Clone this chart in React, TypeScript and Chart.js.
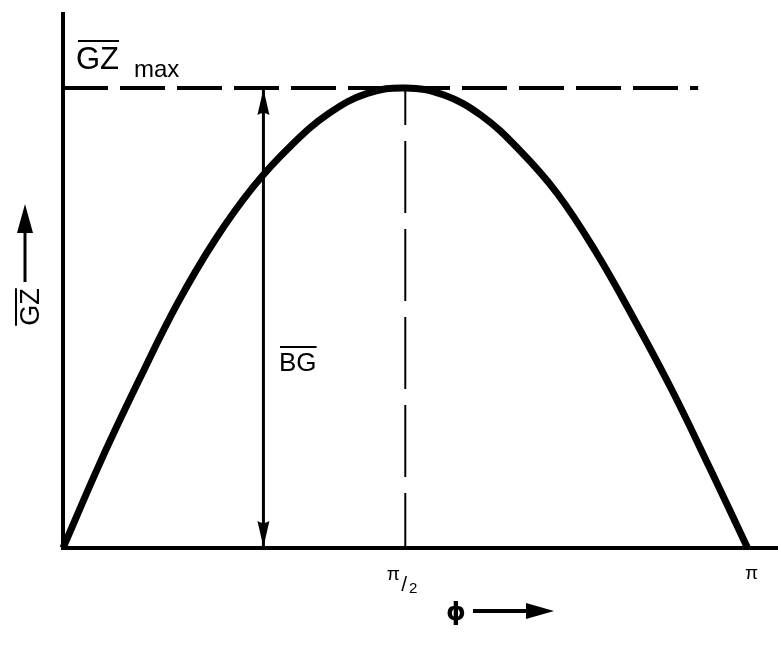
import { useEffect, useRef } from "react";
import Chart from "chart.js/auto";

// Heel angle phi in degrees (0 .. 180 = pi) and the righting lever GZ
const PHI_DEG = [0, 10, 20, 30, 40, 50, 60, 70, 80, 90, 100, 110, 120, 130, 140, 150, 160, 170, 180];
const GZ_VALUES = [0, 0.19, 0.365, 0.53, 0.67, 0.785, 0.875, 0.945, 0.988, 1.0, 0.985, 0.94, 0.865, 0.77, 0.645, 0.5, 0.345, 0.175, 0];

const GZ_MAX = 1.0;
const GZ_MAX_LINE_END = 167; // where the dashed GZmax line stops (deg)
const PEAK_PHI = 90;
const BG_PHI = 52.7;

const TICK_VALUES = [90, 180];
const TICK_LABELS = ["π/2", "π"];

const X_MAX = 188;
const Y_MAX = 1.165;

const FONT = '"Liberation Sans", Arial, sans-serif';

// everything that isn't a plain line: axes, arrow heads and the lettering
const decorations = {
  id: "decorations",
  afterDatasetsDraw(chart: Chart) {
    const { ctx } = chart;
    const x = chart.scales.x;
    const y = chart.scales.y;
    const x0 = x.getPixelForValue(0);
    const y0 = y.getPixelForValue(0);
    const xEnd = x.getPixelForValue(X_MAX);
    const yTop = y.getPixelForValue(Y_MAX);

    ctx.save();
    ctx.strokeStyle = "#000";
    ctx.fillStyle = "#000";

    // axes
    ctx.lineWidth = 4;
    ctx.lineCap = "butt";
    ctx.beginPath();
    ctx.moveTo(x0, yTop);
    ctx.lineTo(x0, y0 + 2);
    ctx.moveTo(x0 - 2, y0);
    ctx.lineTo(xEnd, y0);
    ctx.stroke();

    // BG double arrow heads
    const bx = x.getPixelForValue(BG_PHI);
    const by1 = y.getPixelForValue(GZ_MAX);
    const head = (tipX: number, tipY: number, dir: number, w: number, len: number) => {
      ctx.beginPath();
      ctx.moveTo(tipX, tipY);
      ctx.lineTo(tipX - w / 2, tipY + dir * len);
      ctx.quadraticCurveTo(tipX, tipY + dir * (len - 4), tipX + w / 2, tipY + dir * len);
      ctx.closePath();
      ctx.fill();
    };
    head(bx, by1 + 1, 1, 12, 26);
    head(bx, y0 - 1, -1, 12, 26);

    // tick labels
    const px = x.getPixelForValue(TICK_VALUES[0]);
    const [num, den] = TICK_LABELS[0].split("/");
    ctx.textAlign = "center";
    ctx.textBaseline = "alphabetic";
    ctx.font = `19px ${FONT}`;
    ctx.fillText(num, px - 12, 580);
    ctx.font = `21px ${FONT}`;
    ctx.fillText("/", px - 1, 591);
    ctx.font = `15px ${FONT}`;
    ctx.fillText(den, px + 8, 593);
    ctx.font = `19px ${FONT}`;
    ctx.fillText(TICK_LABELS[1], x.getPixelForValue(TICK_VALUES[1]) + 4, 579);

    // phi -> under the x axis
    ctx.font = `bold 25px "DejaVu Sans", ${FONT}`;
    ctx.fillText("ϕ", 456, 620);
    ctx.lineWidth = 4;
    ctx.beginPath();
    ctx.moveTo(473, 611);
    ctx.lineTo(530, 611);
    ctx.stroke();
    ctx.beginPath();
    ctx.moveTo(554, 611);
    ctx.lineTo(526, 603);
    ctx.lineTo(526, 619);
    ctx.closePath();
    ctx.fill();

    // GZ ^ along the y axis
    ctx.save();
    ctx.translate(39, 307);
    ctx.rotate(-Math.PI / 2);
    ctx.font = `27px ${FONT}`;
    ctx.textAlign = "center";
    ctx.fillText("GZ", 0, 0);
    const gzW = ctx.measureText("GZ").width;
    ctx.fillRect(-gzW / 2, -24, gzW, 2);
    ctx.restore();
    ctx.lineWidth = 3;
    ctx.beginPath();
    ctx.moveTo(25, 282);
    ctx.lineTo(25, 228);
    ctx.stroke();
    ctx.beginPath();
    ctx.moveTo(25, 204);
    ctx.lineTo(17, 233);
    ctx.lineTo(33, 233);
    ctx.closePath();
    ctx.fill();

    // GZ max label
    ctx.textAlign = "left";
    ctx.font = `31px ${FONT}`;
    ctx.fillText("GZ", 76, 69);
    const w1 = ctx.measureText("GZ").width;
    ctx.fillRect(78, 40, w1 - 2, 2);
    ctx.font = `24px ${FONT}`;
    ctx.fillText("max", 134, 77);

    // BG label
    ctx.font = `26px ${FONT}`;
    ctx.fillText("BG", 279, 371);
    const w2 = ctx.measureText("BG").width;
    ctx.fillRect(280, 346, w2 - 1, 2);

    ctx.restore();
  },
};

export default function App() {
  const canvasRef = useRef<HTMLCanvasElement>(null);

  useEffect(() => {
    if (!canvasRef.current) return;

    const curve = PHI_DEG.map((p, i) => ({ x: p, y: GZ_VALUES[i] }));

    const chart = new Chart(canvasRef.current, {
      type: "line",
      data: {
        datasets: [
          {
            data: [
              { x: 0, y: GZ_MAX },
              { x: GZ_MAX_LINE_END, y: GZ_MAX },
            ],
            borderColor: "#000",
            borderWidth: 4,
            borderDash: [45, 12],
            pointRadius: 0,
            clip: false,
          },
          {
            data: [
              { x: PEAK_PHI, y: GZ_MAX },
              { x: PEAK_PHI, y: 0 },
            ],
            borderColor: "#000",
            borderWidth: 2,
            borderDash: [72, 16],
            borderDashOffset: 35,
            pointRadius: 0,
          },
          {
            data: [
              { x: BG_PHI, y: GZ_MAX },
              { x: BG_PHI, y: 0 },
            ],
            borderColor: "#000",
            borderWidth: 3,
            pointRadius: 0,
          },
          {
            data: curve,
            borderColor: "#000",
            borderWidth: 7,
            tension: 0.4,
            pointRadius: 0,
            clip: false,
          },
        ],
      },
      options: {
        animation: false,
        responsive: true,
        maintainAspectRatio: false,
        layout: { padding: { left: 63, top: 12, right: 3, bottom: 106 } },
        scales: {
          x: { type: "linear", min: 0, max: X_MAX, display: false },
          y: { type: "linear", min: 0, max: Y_MAX, display: false },
        },
        plugins: {
          legend: { display: false },
          tooltip: { enabled: false },
        },
      },
      plugins: [decorations],
    });

    return () => chart.destroy();
  }, []);

  return (
    <div style={{ position: "fixed", left: 0, top: 0, width: 781, height: 654, background: "#fff" }}>
      <canvas ref={canvasRef} />
    </div>
  );
}
